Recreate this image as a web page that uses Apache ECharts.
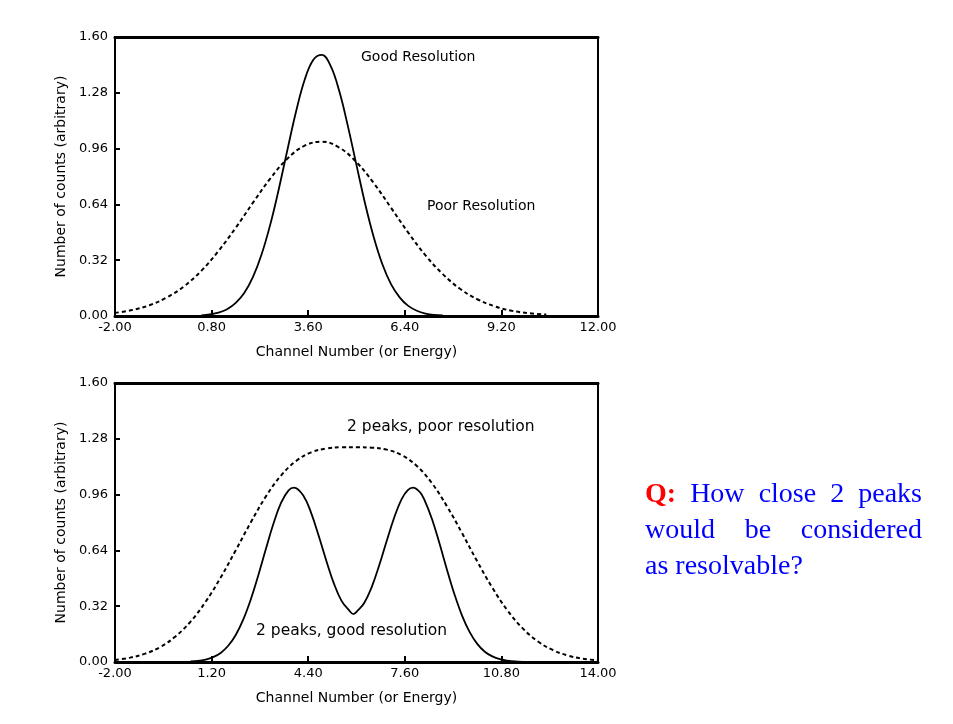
<!DOCTYPE html>
<html>
<head>
<meta charset="utf-8">
<script src="https://cdn.jsdelivr.net/npm/echarts@6/dist/echarts.min.js"></script>
<style>
html, body { margin: 0; padding: 0; background: #fff; }
#chart { width: 953px; height: 724px; }
</style>
</head>
<body>
<div id="chart"></div>
<script>
// top panel: one peak, good (narrow) and poor (wide) resolution
var xGoodTop = [0.5, 0.75, 1, 1.25, 1.5, 1.75, 2, 2.25, 2.5, 2.75, 3, 3.25, 3.5, 3.75, 4, 4.25, 4.5, 4.75, 5, 5.25, 5.5, 5.75, 6, 6.25, 6.5, 6.75, 7, 7.25, 7.5];
var goodTop = [0.004, 0.009, 0.019, 0.039, 0.075, 0.133, 0.224, 0.354, 0.524, 0.730, 0.955, 1.174, 1.356, 1.470, 1.498, 1.434, 1.29, 1.089, 0.865, 0.644,
    0.452, 0.297, 0.183, 0.107, 0.058, 0.030, 0.014, 0.006, 0.003];
var xPoorTop = [-2, -1.5, -1, -0.5, 0, 0.5, 1, 1.5, 2, 2.5, 3, 3.5, 4, 4.5, 5, 5.5, 6, 6.5, 7, 7.5, 8, 8.5, 9, 9.5, 10, 10.5];
var poorTop = [0.018, 0.034, 0.062, 0.106, 0.170, 0.259, 0.373, 0.506, 0.650, 0.788, 0.903, 0.977, 1.0, 0.966, 0.882, 0.762, 0.621, 0.478, 0.348, 0.240,
    0.156, 0.096, 0.056, 0.030, 0.016, 0.008];
var xTicksTop = [-2, 0.8, 3.6, 6.4, 9.2, 12];

// bottom panel: two peaks
var xGoodBot = [0.5, 0.75, 1, 1.25, 1.5, 1.75, 2, 2.25, 2.5, 2.75, 3, 3.25, 3.5, 3.75, 3.93, 4.25, 4.5, 4.75, 5, 5.25, 5.5, 5.75, 5.9, 6.05, 6.25, 6.5, 6.75,
    7, 7.25, 7.5, 7.7, 7.87, 8.1, 8.25, 8.5, 8.75, 9, 9.25, 9.5, 9.75, 10, 10.25, 10.5, 10.75, 11, 11.25, 11.5];
var goodBot = [0.003, 0.006, 0.014, 0.028, 0.052, 0.093, 0.155, 0.244, 0.360, 0.499, 0.649, 0.794, 0.912, 0.984, 1.0, 0.951, 0.854, 0.722, 0.581, 0.451,
    0.352, 0.297, 0.275, 0.297, 0.337, 0.428, 0.553, 0.694, 0.829, 0.936, 0.986, 1.0, 0.974, 0.930, 0.82, 0.679, 0.528, 0.386, 0.265, 0.171, 0.104, 0.059,
    0.032, 0.016, 0.008, 0.003, 0.001];
var xPoorBot = [-2, -1.5, -1, -0.5, 0, 0.5, 1, 1.5, 2, 2.5, 3, 3.5, 4, 4.5, 5, 5.5, 6, 6.5, 7, 7.5, 8, 8.5, 9, 9.5, 10, 10.5, 11, 11.5, 12, 12.5, 13, 13.5, 14];
var poorBot = [0.012, 0.025, 0.048, 0.086, 0.146, 0.231, 0.345, 0.484, 0.641, 0.801, 0.950, 1.069, 1.153, 1.202, 1.224, 1.231, 1.231, 1.229, 1.218, 1.186,
    1.124, 1.025, 0.892, 0.738, 0.577, 0.426, 0.296, 0.194, 0.119, 0.069, 0.037, 0.019, 0.009];
var xTicksBot = [-2, 1.2, 4.4, 7.6, 10.8, 14];

var yMax = 1.6, yStep = 0.32;

function pairs(xs, ys) {
    return xs.map(function (x, i) { return [x, ys[i]]; });
}

var axisFont = 'DejaVu Sans';

function bottomAxis(idx, ticks) {
    return {
        type: 'value', gridIndex: idx, position: 'bottom',
        min: ticks[0], max: ticks[ticks.length - 1],
        name: 'Channel Number (or Energy)', nameLocation: 'middle', nameGap: 29,
        nameTextStyle: { color: '#000', fontFamily: axisFont, fontSize: 14 },
        axisLine: { onZero: false, lineStyle: { color: '#000', width: 3 } },
        axisTick: { inside: true, length: 6, customValues: ticks, lineStyle: { color: '#000', width: 2 } },
        axisLabel: { customValues: ticks, margin: 5, color: '#000', fontFamily: axisFont, fontSize: 13,
            formatter: function (v) { return v.toFixed(2); } },
        splitLine: { show: false }
    };
}
function topAxis(idx, ticks) {
    return {
        type: 'value', gridIndex: idx, position: 'top',
        min: ticks[0], max: ticks[ticks.length - 1],
        axisLine: { onZero: false, lineStyle: { color: '#000', width: 3 } },
        axisTick: { show: false }, axisLabel: { show: false }, splitLine: { show: false }
    };
}
function leftAxis(idx) {
    return {
        type: 'value', gridIndex: idx, position: 'left', min: 0, max: yMax, interval: yStep,
        name: 'Number of counts (arbitrary)', nameLocation: 'middle', nameGap: 46, nameRotate: 90,
        nameTextStyle: { color: '#000', fontFamily: axisFont, fontSize: 14 },
        axisLine: { show: true, onZero: false, lineStyle: { color: '#000', width: 2 } },
        axisTick: { show: true, inside: true, length: 5, lineStyle: { color: '#000', width: 2 } },
        axisLabel: { margin: 7, color: '#000', fontFamily: axisFont, fontSize: 13,
            formatter: function (v) { return v.toFixed(2); } },
        splitLine: { show: false }
    };
}

var solid = { color: '#000', width: 1.8, type: 'solid' };
var dashed = { color: '#000', width: 2, type: [4, 3] };

function curve(xi, yi, data, style) {
    return {
        type: 'line', xAxisIndex: xi, yAxisIndex: yi, data: data,
        showSymbol: false, smooth: 0.4,
        lineStyle: style, itemStyle: { color: '#000' }
    };
}

function note(text, x, y, size) {
    return { type: 'text', left: x, top: y,
        style: { text: text, fill: '#000', font: size + 'px "DejaVu Sans"' } };
}

// the question text, justified like the slide
var qFont = '28px "Liberation Serif", "Times New Roman", serif';
var qFontBold = 'bold ' + qFont;
var qLines = [
    [['Q:', true], ['How'], ['close'], ['2'], ['peaks']],
    [['would'], ['be'], ['considered']],
    [['as resolvable?']]
];
var qLeft = 645, qRight = 922, qTop = 494.5, qLine = 36;
var ctx = document.createElement('canvas').getContext('2d');
var qText = [];
qLines.forEach(function (words, li) {
    var widths = words.map(function (w) {
        ctx.font = w[1] ? qFontBold : qFont;
        return ctx.measureText(w[0]).width;
    });
    var total = widths.reduce(function (a, b) { return a + b; }, 0);
    var gap = words.length > 1 && li < qLines.length - 1 ? (qRight - qLeft - total) / (words.length - 1) : 0;
    var x = qLeft;
    words.forEach(function (w, wi) {
        qText.push({ type: 'text', x: x, y: qTop + li * qLine,
            style: { text: w[0], fill: w[1] ? '#ff0000' : '#0000ff', font: w[1] ? qFontBold : qFont,
                textAlign: 'left', textVerticalAlign: 'middle' } });
        x += widths[wi] + gap;
    });
});

var chart = echarts.init(document.getElementById('chart'));

option = {
    animation: false,
    backgroundColor: '#fff',
    grid: [
        { left: 115, top: 37, width: 483, height: 279, show: true, borderColor: '#000', borderWidth: 2 },
        { left: 115, top: 383, width: 483, height: 279, show: true, borderColor: '#000', borderWidth: 2 }
    ],
    xAxis: [bottomAxis(0, xTicksTop), topAxis(0, xTicksTop), bottomAxis(1, xTicksBot), topAxis(1, xTicksBot)],
    yAxis: [leftAxis(0), leftAxis(1)],
    series: [
        curve(0, 0, pairs(xGoodTop, goodTop), solid),
        curve(0, 0, pairs(xPoorTop, poorTop), dashed),
        curve(2, 1, pairs(xGoodBot, goodBot), solid),
        curve(2, 1, pairs(xPoorBot, poorBot), dashed)
    ],
    graphic: [
        note('Good Resolution', 361, 50, 14),
        note('Poor Resolution', 427, 199, 14),
        note('2 peaks, poor resolution', 347, 419, 15.5),
        note('2 peaks, good resolution', 256, 623, 15.5)
    ].concat(qText)
};

chart.setOption(option);
</script>
</body>
</html>
